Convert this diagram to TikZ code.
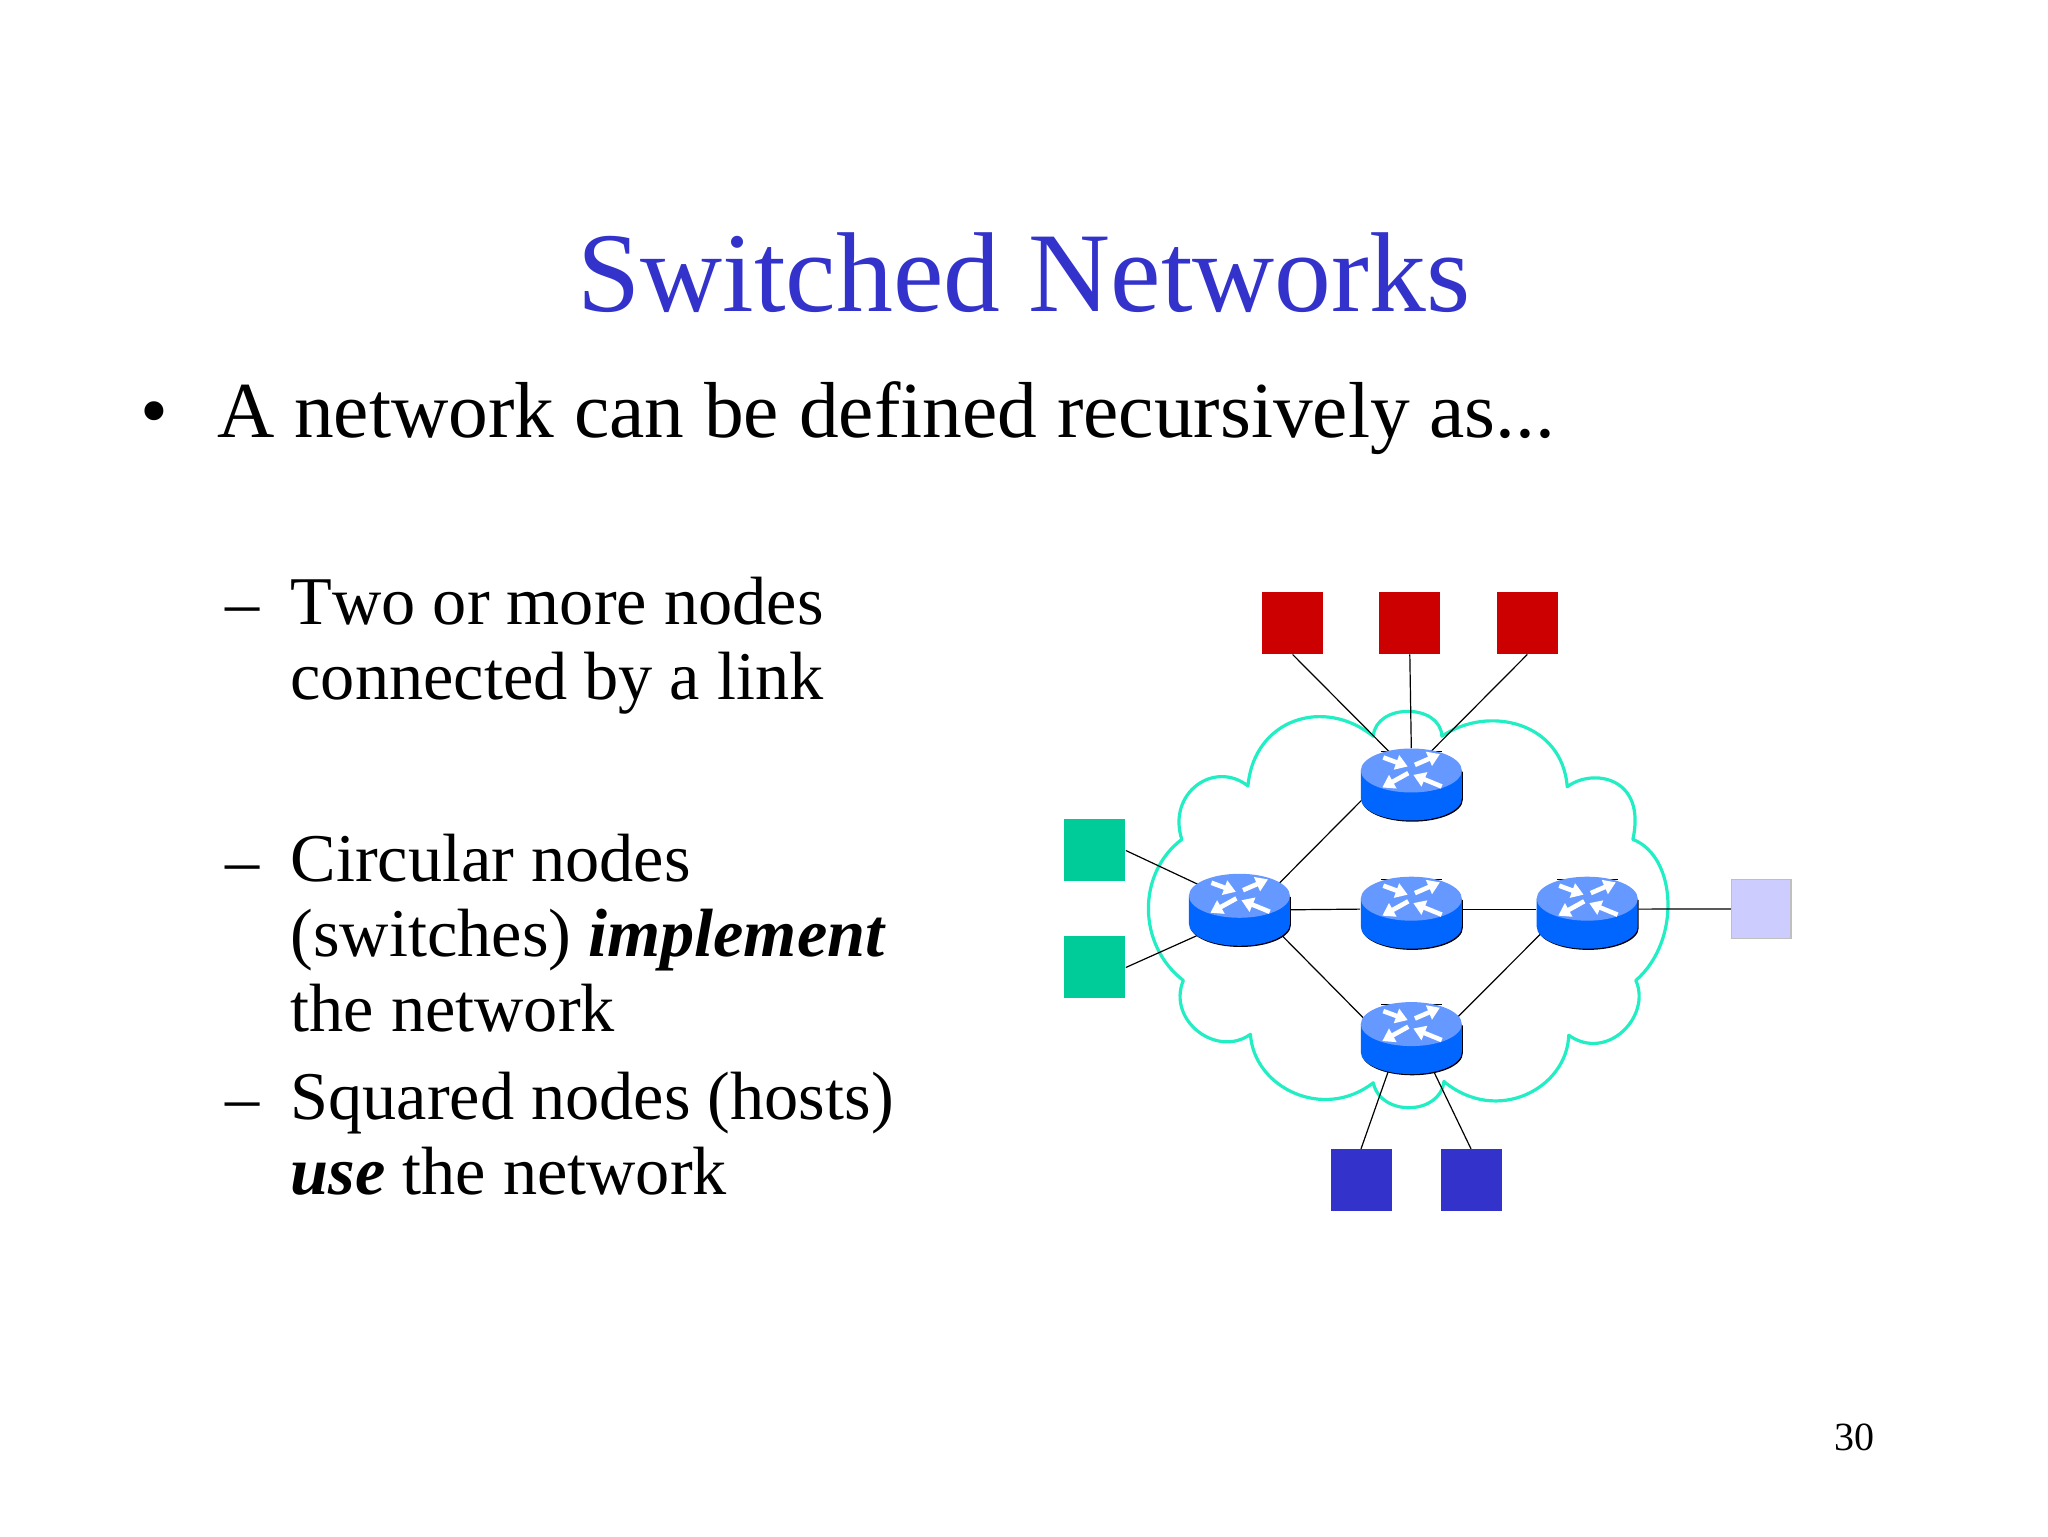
\documentclass[tikz,border=0pt]{standalone}
\usepackage{fontspec}
\setmainfont{Liberation Serif}
\usetikzlibrary{arrows.meta, positioning, shapes.geometric, backgrounds}

\definecolor{titleblue}{HTML}{3333CC}
\definecolor{hostred}{HTML}{CC0000}
\definecolor{hostgreen}{HTML}{00CC99}
\definecolor{hostblue}{HTML}{3333CC}
\definecolor{hostpale}{HTML}{CCCCFF}
\definecolor{cloudline}{HTML}{22EEC4}
\definecolor{switchtop}{HTML}{6699FF}
\definecolor{switchbody}{HTML}{0066FF}

\begin{document}
\begin{tikzpicture}[
    host/.style={
        rectangle,
        inner sep=0pt,
        minimum width=30.5pt,
        minimum height=31pt
    },
    switch/.style={
        ellipse,
        inner sep=0pt,
        minimum width=51pt,
        minimum height=36pt
    },
    redhost/.style={host, fill=hostred},
    greenhost/.style={host, fill=hostgreen},
    bluehost/.style={host, fill=hostblue},
    palehost/.style={host, fill=hostpale, draw=black!25, line width=0.6pt, minimum width=29.6pt, minimum height=29.6pt},
    link/.style={draw=black, line width=0.6pt},
    whitearrow/.style={draw=white, line width=2.3pt, -{Triangle[width=7.4pt, length=6pt]}},
    heading/.style={font=\fontsize{56.8}{60}\selectfont, text=titleblue, inner sep=0pt},
    lead/.style={font=\fontsize{39.7}{44}\selectfont, inner sep=0pt},
    item/.style={font=\fontsize{34.15}{37.4}\selectfont, inner sep=0pt, align=left},
    switchtick/.pic={
        \draw[black, line width=0.5pt] (-15.2pt,16.6pt) -- (15.2pt,16.6pt);
    },
    switchicon/.pic={
        \fill[black, shift={(0.5pt,-0.6pt)}] (-25.25pt,7pt) -- (-25.25pt,-7pt)
            arc[start angle=180, end angle=360, x radius=25.25pt, y radius=11pt] -- (25.25pt,7pt) -- cycle;
        \fill[switchbody] (-25.25pt,7pt) -- (-25.25pt,-7pt)
            arc[start angle=180, end angle=360, x radius=25.25pt, y radius=11pt] -- (25.25pt,7pt) -- cycle;
        \fill[switchtop] (0,7pt) ellipse[x radius=25.25pt, y radius=11pt];
        \draw[whitearrow] (-14pt,13.5pt) -- (-1.8pt,9pt);
        \draw[whitearrow] (1.8pt,9.8pt) -- (14.3pt,15.2pt);
        \draw[whitearrow] (-1.5pt,5.7pt) -- (-14.5pt,-1.5pt);
        \draw[whitearrow] (15.2pt,-1pt) -- (1pt,4.8pt);
    }
]

\useasboundingbox (0,0) rectangle (1024pt,768pt);

% === Text ===
\node[heading, anchor=base] (title) at (512pt,612.3pt) {Switched Networks};
\node[lead, anchor=base west] (bullet) at (70pt,549.4pt) {•};
\node[lead, anchor=base west] (leadline) at (108.3pt,549.4pt) {A network can be defined recursively as...};

\node[item, anchor=base west] (dashone) at (112.3pt,455pt) {–};
\node[item, anchor=base west] (itemone) at (145.1pt,418.1pt) {T\kern0pt wo or more nodes\\connected by a link};
\node[item, anchor=base west] (dashtwo) at (112.3pt,326pt) {–};
\node[item, anchor=base west] (itemtwo) at (145.1pt,252.4pt) {Circular nodes\\(switches) \textbf{\textit{implement}}\\the network};
\node[item, anchor=base west] (dashthree) at (112.3pt,207.5pt) {–};
\node[item, anchor=base west] (itemthree) at (145.1pt,170.6pt) {Squared nodes (hosts)\\\textbf{\textit{use}} the network};

\node[font=\fontsize{20}{22}\selectfont, inner sep=0pt, anchor=base east] (pagenum) at (937.3pt,43pt) {30};

% === Switches ===
\node[switch] (midsw) at (705.65pt,311.65pt) {};
\node[switch, above=27.7pt of midsw] (topsw) {};
\node[switch, below=26.3pt of midsw] (botsw) {};
\node[switch, left=34.55pt of midsw, yshift=1.45pt] (leftsw) {};
\node[switch, right=36.55pt of midsw] (rightsw) {};

% === Hosts ===
\node[redhost, above=46.8pt of topsw, xshift=-0.75pt] (redtwo) {};
\node[redhost, left=27.7pt of redtwo] (redone) {};
\node[redhost, right=27.85pt of redtwo] (redthree) {};

\node[greenhost, left=31.1pt of leftsw, yshift=29.65pt] (greenone) {};
\node[greenhost, left=31.1pt of leftsw, yshift=-28.85pt] (greentwo) {};

\node[bluehost, below=37.2pt of botsw, xshift=-25.15pt] (blueone) {};
\node[bluehost, below=37.2pt of botsw, xshift=29.85pt] (bluetwo) {};

\node[palehost, right=46.3pt of rightsw, yshift=1.85pt] (palehost) {};

% === Cloud and links (behind the switches) ===
\begin{scope}[on background layer]
    \begin{scope}[shift={(525pt,483pt)}, x=0.24865pt, y=-0.2105pt]
        \draw[cloudline, line width=1.6pt, line join=round]
            (650,395) .. controls (655,316) and (785,316) .. (788,395)
            .. controls (880,320) and (1030,360) .. (1040,515)
            .. controls (1090,470) and (1200,490) .. (1172,640)
            .. controls (1260,680) and (1270,880) .. (1178,975)
            .. controls (1210,1060) and (1120,1170) .. (1043,1105)
            .. controls (1040,1230) and (900,1320) .. (792,1215)
            .. controls (785,1295) and (665,1300) .. (650,1218)
            .. controls (550,1310) and (410,1230) .. (403,1103)
            .. controls (335,1160) and (235,1070) .. (268,975)
            .. controls (175,890) and (175,720) .. (265,640)
            .. controls (235,530) and (330,450) .. (398,513)
            .. controls (410,355) and (550,300) .. (650,395) -- cycle;
    \end{scope}

    % Hosts on the top switch
    \draw[link] (redone.south) -- (topsw.124);
    \draw[link] (redtwo.south) -- (topsw.north);
    \draw[link] (redthree.south) -- (topsw.59);

    % Hosts on the left switch
    \draw[link] (greenone.east) -- (leftsw.148);
    \draw[link] (greentwo.east) -- (leftsw.212);

    % Between switches
    \draw[link] (topsw.196) -- (leftsw.33);
    \draw[link] (leftsw.east) -- (midsw.176);
    \draw[link] (midsw.4) -- (rightsw.176);
    \draw[link] (leftsw.330) -- (botsw.159);
    \draw[link] (rightsw.203) -- (botsw.23);

    % Remaining hosts
    \draw[link] (rightsw.4) -- (palehost.west);
    \draw[link] (botsw.235) -- (blueone.north);
    \draw[link] (botsw.304) -- (bluetwo.north);
\end{scope}

% === Switch icons ===
\pic at (topsw) {switchtick};
\pic at (midsw) {switchtick};
\pic at (botsw) {switchtick};
\pic at (rightsw) {switchtick};
\pic at (topsw) {switchicon};
\pic at (midsw) {switchicon};
\pic at (botsw) {switchicon};
\pic at (leftsw) {switchicon};
\pic at (rightsw) {switchicon};

\end{tikzpicture}
\end{document}
